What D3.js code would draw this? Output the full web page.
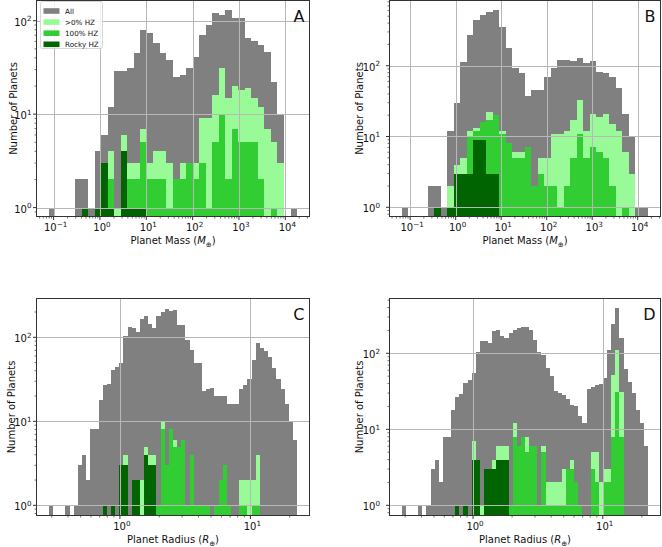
<!DOCTYPE html>
<html>
<head>
<meta charset="utf-8">
<script src="https://cdn.jsdelivr.net/npm/d3@7"></script>
<style>
body { margin: 0; background: #fff; }
svg { font-family: "DejaVu Sans", sans-serif; }
</style>
</head>
<body>
<svg width="662" height="547"></svg>
<script>
// bins: log10 of first edge, log10 of last edge, number of bins
var massBinsA = [-1.101, 4.254, 38];
var massBinsB = [-1.183, 4.23, 38];
var radiusBinsC = [-0.544, 1.358, 60];
var radiusBinsD = [-0.549, 1.35, 60];

var seriesNames = ["All", ">0% HZ", "100% HZ", "Rocky HZ"];
var seriesColors = ["#808080", "#98fb98", "#32cd32", "#006400"];

// panel A: planet mass
var allA   = [1,0,0,0,2,2,1,4,6,12,29,29,31,45,80,74,58,45,38,25,26,31,41,70,90,120,115,130,107,107,65,60,55,46,22,10,0,1];
var hz0A   = [0,0,0,0,0,1,0,1,3,4,1,6,3,3,7,3,4,4,3,2,3,2,3,9,9,16,31,15,20,18,19,15,12,7,5,3,0,0];
var hz100A = [0,0,0,0,0,1,0,1,3,2,0,4,2,2,5,2,2,2,1,2,2,3,2,3,1,5,10,2,7,5,5,5,2,0,1,0,0,0];
var rockyA = [0,0,0,0,0,1,0,1,3,1,0,4,1,1,1,0,0,0,0,0,0,0,0,0,0,0,0,0,0,0,0,0,0,0,0,0,0,0];

// panel B: planet mass
var allB   = [1,0,0,0,2,2,1,12,30,114,270,445,520,580,610,356,176,92,78,37,45,46,70,92,121,121,118,127,110,115,82,78,70,48,21,10,1,1];
var hz0B   = [0,0,0,0,0,1,0,2,4,5,12,13,16,22,20,12,6,6,6,7,2,5,5,11,11,12,17,33,12,21,19,21,15,12,6,3,0,0];
var hz100B = [0,0,0,0,0,1,0,1,3,3,10,12,16,17,20,11,8,5,5,7,2,3,2,2,1,2,5,11,5,7,6,5,2,0,1,0,0,0];
var rockyB = [0,0,0,0,0,1,0,1,3,3,3,9,9,3,3,0,0,0,0,0,0,0,0,0,0,0,0,0,0,0,0,0,0,0,0,0,0,0];

// panel C: planet radius
var allC   = [1,0,0,0,1,0,1,3,4,2,8,8,18,27,28,41,44,50,103,133,130,116,167,180,146,130,177,200,215,208,
              210,140,140,93,70,49,49,23,24,25,20,20,20,16,16,16,24,27,32,54,85,74,68,59,43,32,24,16,10,6];
var hz0C   = [0,0,0,0,0,0,0,0,0,0,0,0,0,1,0,1,0,3,4,0,2,2,2,5,4,4,1,10,3,8,
              6,5,6,1,4,1,1,1,1,0,1,2,3,1,0,0,2,2,2,2,4,0,0,0,0,0,0,0,0,0];
var hz100C = [0,0,0,0,0,0,0,0,0,0,0,0,0,1,0,1,0,3,3,0,2,2,0,4,3,3,1,8,3,8,
              5,5,6,1,4,1,1,1,1,0,1,2,3,1,0,0,1,1,0,1,1,0,0,0,0,0,0,0,0,0];
var rockyC = [0,0,0,0,0,0,0,0,0,0,0,0,0,1,0,1,0,3,3,0,2,2,0,4,3,3,0,0,0,0,
              0,0,0,0,0,0,0,0,0,0,0,0,0,0,0,0,0,0,0,0,0,0,0,0,0,0,0,0,0,0];

// panel D: planet radius
var allD   = [1,0,0,0,1,0,1,3,4,2,8,8,18,27,29,41,44,55,105,145,143,138,195,205,170,160,185,200,215,225,
              220,200,150,105,95,65,50,32,30,28,25,21,20,15,12,34,36,38,40,47,110,240,390,160,63,42,30,18,12,6];
var hz0D   = [0,0,0,0,0,0,0,0,0,0,0,0,0,1,0,1,0,7,4,1,3,3,4,6,6,6,1,12,6,8,
              8,6,6,1,6,2,2,2,2,3,3,4,2,1,0,0,5,5,2,3,3,52,110,31,0,0,0,0,0,0];
var hz100D = [0,0,0,0,0,0,0,0,0,0,0,0,0,1,0,1,0,4,4,0,3,3,3,4,4,4,1,8,6,8,
              5,6,6,1,5,1,1,1,1,1,3,3,2,1,0,0,3,2,0,2,2,8,31,8,0,0,0,0,0,0];
var rockyD = [0,0,0,0,0,0,0,0,0,0,0,0,0,1,0,1,0,4,4,0,3,3,3,4,4,4,0,0,0,0,
              0,0,0,0,0,0,0,0,0,0,0,0,0,0,0,0,0,0,0,0,0,0,0,0,0,0,0,0,0,0];

var svg = d3.select("svg");

function powLabel(sel, e) {
	sel.text("10");
	sel.append("tspan").attr("dy", -4.5).attr("font-size", 7.2)
		.text(e < 0 ? "\u2212" + (-e) : e);
}

function panel(p) {
	var lo = p.bins[0], hi = p.bins[1], n = p.bins[2];
	var pad = (hi - lo) * 0.05;
	var x = d3.scaleLog().domain([Math.pow(10, lo - pad), Math.pow(10, hi + pad)]).range([p.left, p.right]);
	var y = d3.scaleLog().domain([Math.pow(10, p.ylog[0]), Math.pow(10, p.ylog[1])]).range([p.bottom, p.top]);
	var edges = d3.range(n + 1).map(function(i){ return Math.pow(10, lo + (hi - lo) * i / n); });

	var g = svg.append("g");
	g.append("clipPath").attr("id", "clip" + p.letter)
		.append("rect").attr("x", p.left).attr("y", p.top)
		.attr("width", p.right - p.left).attr("height", p.bottom - p.top);
	var plot = g.append("g").attr("clip-path", "url(#clip" + p.letter + ")");

	p.series.forEach(function(counts, s){
		var bars = counts.map(function(c, i){ return {c: c, a: edges[i], b: edges[i + 1]}; })
			.filter(function(d){ return d.c > 0; });
		plot.append("g").attr("fill", seriesColors[s]).attr("shape-rendering", "crispEdges")
			.selectAll("rect").data(bars)
			.enter().append("rect")
			.attr("x", function(d){ return x(d.a); })
			.attr("width", function(d){ return x(d.b) - x(d.a); })
			.attr("y", function(d){ return y(d.c); })
			.attr("height", function(d){ return p.bottom - y(d.c); });
	});

	var xd = x.domain(), yd = y.domain();
	var xDec = d3.range(Math.ceil(lo - pad), Math.floor(hi + pad) + 1);
	var yDec = d3.range(Math.ceil(p.ylog[0]), Math.floor(p.ylog[1]) + 1);
	var xMinor = [], yMinor = [];
	d3.range(Math.floor(lo - pad), Math.ceil(hi + pad)).forEach(function(k){
		d3.range(2, 10).forEach(function(m){
			var v = m * Math.pow(10, k);
			if (v > xd[0] && v < xd[1]) xMinor.push(v);
		});
	});
	d3.range(Math.floor(p.ylog[0]), Math.ceil(p.ylog[1])).forEach(function(k){
		d3.range(2, 10).forEach(function(m){
			var v = m * Math.pow(10, k);
			if (v > yd[0] && v < yd[1]) yMinor.push(v);
		});
	});

	// grid sits above the bars
	var grid = g.append("g").attr("stroke", "#b8b8b8").attr("stroke-width", 1).attr("shape-rendering", "crispEdges");
	xDec.forEach(function(e){
		var px = Math.round(x(Math.pow(10, e))) + 0.5;
		grid.append("line").attr("x1", px).attr("x2", px).attr("y1", p.top).attr("y2", p.bottom);
	});
	yDec.forEach(function(e){
		var py = Math.round(y(Math.pow(10, e))) + 0.5;
		grid.append("line").attr("x1", p.left).attr("x2", p.right).attr("y1", py).attr("y2", py);
	});

	g.append("rect").attr("x", p.left).attr("y", p.top)
		.attr("width", p.right - p.left).attr("height", p.bottom - p.top)
		.attr("fill", "none").attr("stroke", "#333").attr("stroke-width", 1);

	var ticks = g.append("g").attr("stroke", "#333").attr("stroke-width", 1);
	xDec.forEach(function(e){
		var px = x(Math.pow(10, e));
		ticks.append("line").attr("x1", px).attr("x2", px).attr("y1", p.bottom).attr("y2", p.bottom + 3.5);
		g.append("text").attr("x", px + 2).attr("y", p.bottom + 14.5)
			.attr("text-anchor", "middle").attr("font-size", 10).attr("fill", "#111")
			.call(powLabel, e);
	});
	xMinor.forEach(function(v){
		var px = x(v);
		ticks.append("line").attr("x1", px).attr("x2", px).attr("y1", p.bottom).attr("y2", p.bottom + 2)
			.attr("stroke-width", 0.7);
	});
	yDec.forEach(function(e){
		var py = y(Math.pow(10, e));
		ticks.append("line").attr("x1", p.left).attr("x2", p.left - 3.5).attr("y1", py).attr("y2", py);
		g.append("text").attr("x", p.left - p.gap).attr("y", py + 5)
			.attr("text-anchor", "end").attr("font-size", 10).attr("fill", "#111")
			.call(powLabel, e);
	});
	yMinor.forEach(function(v){
		var py = y(v);
		ticks.append("line").attr("x1", p.left).attr("x2", p.left - 2).attr("y1", py).attr("y2", py)
			.attr("stroke-width", 0.7);
	});

	var xl = g.append("text").attr("x", (p.left + p.right) / 2).attr("y", p.bottom + 27.5)
		.attr("text-anchor", "middle").attr("font-size", 10).attr("fill", "#111");
	xl.append("tspan").text(p.xName + " (");
	xl.append("tspan").attr("font-style", "italic").text(p.xSym);
	xl.append("tspan").attr("font-size", 7).attr("dy", 2.5).text("\u2295");
	xl.append("tspan").attr("dy", -2.5).text(")");

	g.append("text").attr("transform", "translate(" + p.ylabelX + "," + ((p.top + p.bottom) / 2) + ") rotate(-90)")
		.attr("text-anchor", "middle").attr("font-size", 10).attr("fill", "#111")
		.text("Number of Planets");

	g.append("text").attr("x", p.right - 5).attr("y", p.top + 21)
		.attr("text-anchor", "end").attr("font-size", 16).attr("fill", "#111")
		.text(p.letter);

	if (p.legend) {
		var lg = g.append("g").attr("transform", "translate(" + (p.left + 4) + "," + (p.top + 1) + ")");
		lg.append("rect").attr("width", 62).attr("height", 47).attr("rx", 2)
			.attr("fill", "white").attr("fill-opacity", 0.8).attr("stroke", "#ccc").attr("stroke-width", 0.8);
		seriesNames.forEach(function(name, s){
			var cy = 9.5 + s * 11.1;
			lg.append("rect").attr("x", 3).attr("y", cy - 2.8).attr("width", 16).attr("height", 5.6)
				.attr("fill", seriesColors[s]);
			lg.append("text").attr("x", 24.5).attr("y", cy + 2.6).attr("font-size", 7.2).attr("fill", "#111").text(name);
		});
	}
}

panel({letter: "A", bins: massBinsA, ylog: [-0.095, 2.216], series: [allA, hz0A, hz100A, rockyA],
	left: 36.5, right: 309.5, top: 0.5, bottom: 216.5, gap: 5, ylabelX: 17,
	xName: "Planet Mass", xSym: "M", legend: true});
panel({letter: "B", bins: massBinsB, ylog: [-0.130, 2.921], series: [allB, hz0B, hz100B, rockyB],
	left: 389.5, right: 660.5, top: 0.5, bottom: 216.5, gap: 9.5, ylabelX: 363,
	xName: "Planet Mass", xSym: "M"});
panel({letter: "C", bins: radiusBinsC, ylog: [-0.121, 2.462], series: [allC, hz0C, hz100C, rockyC],
	left: 36.5, right: 309.5, top: 298.5, bottom: 515.5, gap: 5, ylabelX: 15,
	xName: "Planet Radius", xSym: "R"});
panel({letter: "D", bins: radiusBinsD, ylog: [-0.134, 2.721], series: [allD, hz0D, hz100D, rockyD],
	left: 389.5, right: 660.5, top: 298.5, bottom: 515.5, gap: 9.5, ylabelX: 363,
	xName: "Planet Radius", xSym: "R"});
</script>
</body>
</html>
